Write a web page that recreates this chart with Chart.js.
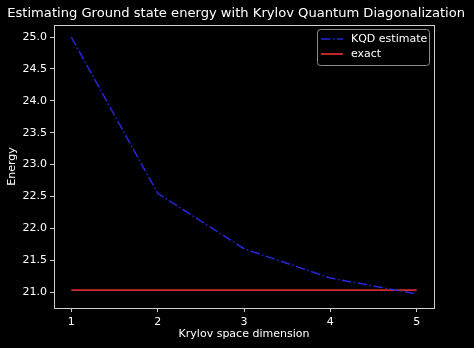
<!DOCTYPE html>
<html>
<head>
<meta charset="utf-8">
<script src="https://cdn.jsdelivr.net/npm/chart.js@4.4.1/dist/chart.umd.min.js"></script>
<style>
  html, body { margin: 0; padding: 0; background: #000; }
  #wrap { width: 474px; height: 348px; }
</style>
</head>
<body>
<div id="wrap"><canvas id="myChart" width="474" height="348"></canvas></div>
<script>
// datos
const dims = [1, 2, 3, 4, 5];
const kqdEstimate = [25.0, 22.55, 21.68, 21.22, 20.97];
const exactEnergy = [21.03, 21.03, 21.03, 21.03, 21.03];
const xTicks = [1, 2, 3, 4, 5];
const yTicks = [21.0, 21.5, 22.0, 22.5, 23.0, 23.5, 24.0, 24.5, 25.0];

const fontFam = "'DejaVu Sans', sans-serif";
const axisColor = '#cfcfcf';

// recuadro de ejes y leyenda estilo matplotlib
const framePlugin = {
  id: 'frame',
  afterDatasetsDraw(chart) {
    const { ctx, chartArea: a } = chart;
    ctx.save();
    ctx.strokeStyle = axisColor;
    ctx.lineWidth = 1;
    ctx.strokeRect(Math.round(a.left) + 0.5, Math.round(a.top) + 0.5,
      Math.round(a.right - a.left), Math.round(a.bottom - a.top));

    // leyenda
    const x0 = 317, y0 = 29, w = 112, h = 36;
    ctx.fillStyle = 'rgba(0,0,0,0.8)';
    ctx.strokeStyle = '#8a8a8a';
    ctx.beginPath();
    ctx.roundRect(x0 + 0.5, y0 + 0.5, w, h, 3);
    ctx.fill();
    ctx.stroke();
    ctx.font = '11px ' + fontFam;
    ctx.textBaseline = 'middle';
    chart.data.datasets.forEach((ds, i) => {
      const yy = y0 + 10 + i * 15;
      ctx.strokeStyle = ds.borderColor;
      ctx.lineWidth = ds.borderWidth;
      ctx.setLineDash(ds.borderDash || []);
      ctx.beginPath();
      ctx.moveTo(x0 + 4, yy);
      ctx.lineTo(x0 + 26, yy);
      ctx.stroke();
      ctx.setLineDash([]);
      ctx.fillStyle = '#ffffff';
      ctx.fillText(ds.label, x0 + 34, yy);
    });
    ctx.restore();
  }
};

const ctx = document.getElementById('myChart');

new Chart(ctx, {
  type: 'line',
  data: {
    labels: dims,
    datasets: [
      {
        label: 'KQD estimate',
        data: dims.map((d, i) => ({ x: d, y: kqdEstimate[i] })),
        borderColor: '#2626dc',
        borderWidth: 1.5,
        borderDash: [9.5, 2.5, 1.5, 2.5],
        pointRadius: 0,
        tension: 0
      },
      {
        label: 'exact',
        data: dims.map((d, i) => ({ x: d, y: exactEnergy[i] })),
        borderColor: '#d42a2e',
        borderWidth: 1.8,
        pointRadius: 0,
        tension: 0
      }
    ]
  },
  plugins: [framePlugin],
  options: {
    responsive: false,
    animation: false,
    layout: { padding: { left: 0, right: 9, top: 0, bottom: 0 } },
    plugins: {
      legend: { display: false },
      tooltip: { enabled: false },
      title: {
        display: true,
        text: 'Estimating Ground state energy with Krylov Quantum Diagonalization',
        color: '#ffffff',
        font: { family: fontFam, size: 13.1, weight: 'normal' },
        padding: { top: 6, bottom: 3.3 },
        align: 'end'
      }
    },
    scales: {
      x: {
        type: 'linear',
        min: 0.8,
        max: 5.2,
        afterBuildTicks: s => { s.ticks = xTicks.map(v => ({ value: v })); },
        afterFit: s => { s.height = 40; },
        grid: { drawOnChartArea: false, color: axisColor, tickLength: 4, tickWidth: 1 },
        border: { color: axisColor },
        ticks: { color: '#ffffff', font: { family: fontFam, size: 11 }, padding: 4, maxRotation: 0,
          callback: v => String(v) },
        title: { display: true, text: 'Krylov space dimension', color: '#ffffff',
          font: { family: fontFam, size: 11 }, padding: { top: 0, bottom: 7.4 } }
      },
      y: {
        min: 20.75,
        max: 25.19,
        afterBuildTicks: s => { s.ticks = yTicks.map(v => ({ value: v })); },
        afterFit: s => { s.width = 54; },
        grid: { drawOnChartArea: false, color: axisColor, tickLength: 4, tickWidth: 1 },
        border: { color: axisColor },
        ticks: { color: '#ffffff', font: { family: fontFam, size: 11 }, padding: 3,
          callback: v => v.toFixed(1) },
        title: { display: true, text: 'Energy', color: '#ffffff',
          font: { family: fontFam, size: 11 }, padding: { top: 6, bottom: 0 } }
      },
      // eje vacio a la derecha solo para reservar espacio
      yRight: {
        position: 'right',
        min: 20.75,
        max: 25.19,
        afterFit: s => { s.width = 31; },
        grid: { display: false },
        border: { display: false },
        ticks: { display: false }
      }
    }
  }
});
</script>
</body>
</html>
